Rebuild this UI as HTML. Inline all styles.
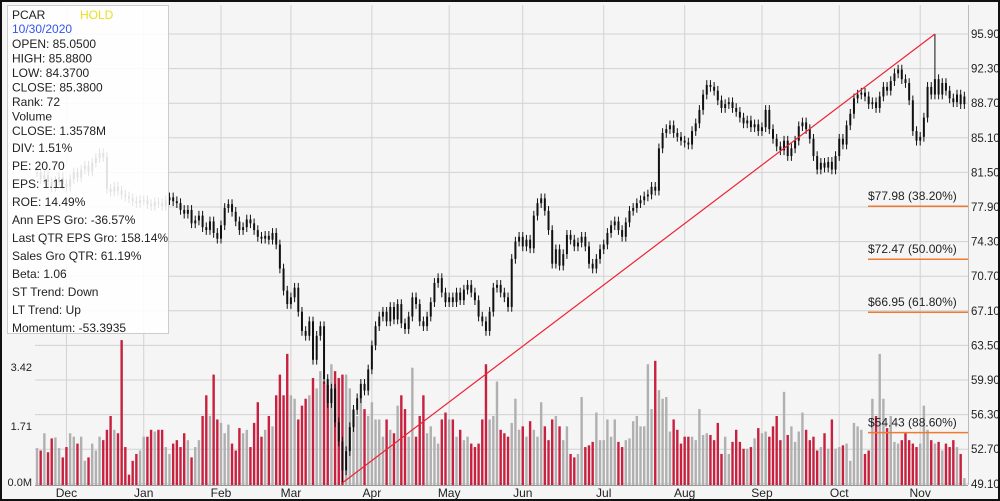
<!DOCTYPE html>
<html><head><meta charset="utf-8"><style>
html,body{margin:0;padding:0;background:#fff;}
svg{display:block;font-family:"Liberation Sans",sans-serif;}
</style></head><body>
<svg id="chart" width="1000" height="501" viewBox="0 0 1000 501">
<rect x="0" y="0" width="1000" height="501" fill="#f5f5f5"/>
<g id="grid"></g><g id="vol"></g><g id="price"></g><g id="fib"></g><g id="axes"></g><g id="info"></g>
<rect x="1" y="1" width="998" height="499" fill="none" stroke="#111" stroke-width="2"/>
</svg>
<script>
const monthLabels=["Dec","Jan","Feb","Mar","Apr","May","Jun","Jul","Aug","Sep","Oct","Nov"];
const monthStartIdx=[8,29,50,69,91,112,132,154,176,197,218,240];
const priceTicks=[95.9,92.3,88.7,85.1,81.5,77.9,74.3,70.7,67.1,63.5,59.9,56.3,52.7,49.1];
const volTicks=[0,1.71,3.42];
const volTickLabels=["0.0M","1.71","3.42"];
const closes=[81.5,80.8,81.2,80.5,80.0,80.6,81.0,80.3,
80.0,80.8,81.5,81.0,81.8,82.2,81.6,82.5,83.0,83.5,83.1,79.8,79.5,80.0,79.6,79.2,79.0,78.8,78.5,78.3,78.6,
78.6,78.2,78.0,78.4,78.3,78.0,78.6,78.9,78.5,78.3,77.6,77.2,77.6,76.2,76.5,77.0,75.8,75.5,76.4,75.2,74.6,
76.0,77.8,78.2,77.4,76.4,75.5,75.8,76.6,76.2,75.5,74.8,74.6,74.9,74.5,75.2,74.0,71.5,69.2,67.8,
68.5,69.5,67.0,65.0,64.5,66.0,62.0,64.5,65.5,60.0,57.5,59.0,55.5,53.5,50.5,52.5,55.0,56.8,58.0,59.5,58.8,61.0,
63.5,65.5,66.5,67.0,66.0,67.5,66.2,67.8,65.8,65.2,66.5,68.5,67.8,66.0,65.5,66.5,68.0,70.0,70.5,69.0,68.0,
68.5,68.0,69.0,68.2,69.3,69.8,69.0,68.2,66.5,66.0,65.0,67.0,69.5,69.8,69.0,68.5,67.5,72.5,74.3,74.8,
73.8,74.5,73.6,77.0,78.3,78.8,77.5,75.5,72.0,73.5,71.8,73.0,75.0,74.5,73.8,74.2,74.8,73.8,72.0,71.5,72.5,73.5,
74.0,75.2,76.0,76.4,75.5,74.8,76.3,77.5,77.8,78.3,78.6,79.0,79.2,80.0,79.6,84.0,85.6,86.0,86.4,85.6,85.2,84.8,
84.6,84.4,85.8,86.6,88.0,89.6,90.6,90.4,90.0,89.0,88.2,88.6,88.8,88.2,87.8,87.2,86.6,86.9,86.2,86.5,85.8,
86.2,88.0,86.0,85.0,84.2,83.8,84.8,83.2,84.0,84.8,86.3,86.7,86.0,85.0,83.2,81.8,82.5,82.0,82.6,81.8,83.2,
85.0,84.4,86.4,87.6,89.2,89.6,89.8,89.4,88.6,88.8,88.2,89.4,90.4,90.0,91.0,91.8,92.2,91.2,90.8,89.0,85.8,84.8,
85.2,87.2,90.4,89.6,91.2,89.6,90.8,90.0,89.2,88.8,89.6,88.6,89.4];
const volumes=[1.07,1.0,1.5,0.95,1.35,1.38,1.07,0.8,
1.1,1.5,1.4,1.2,1.4,0.7,0.8,1.2,1.0,1.4,1.3,1.6,2.0,1.6,1.5,4.2,1.1,0.3,0.7,0.9,1.0,
1.4,1.4,1.6,1.55,1.6,1.6,1.1,0.9,1.2,1.3,1.1,1.5,1.3,0.8,1.1,1.3,2.0,2.6,2.0,3.2,1.9,
1.8,1.5,1.75,1.2,1.0,1.65,1.5,1.6,1.1,1.8,2.4,1.4,1.6,2.0,1.7,2.6,3.2,2.6,3.8,
2.6,2.5,1.9,2.3,2.5,2.6,3.1,2.8,3.3,3.0,2.9,3.5,3.3,3.1,3.2,3.2,2.8,2.2,2.0,2.6,2.2,2.0,
2.4,1.9,1.9,1.4,1.9,1.6,1.5,2.3,2.6,2.2,1.4,3.4,1.4,2.0,2.6,1.5,1.7,1.4,1.2,1.9,2.1,
1.9,1.9,1.4,1.6,1.3,1.4,1.2,1.1,1.2,1.9,3.5,1.9,2.0,3.0,1.6,1.5,1.4,1.8,2.5,1.6,
1.7,1.4,1.85,1.6,1.4,2.4,1.7,1.3,1.9,2.0,1.7,1.3,1.7,0.9,0.8,0.9,2.55,1.1,1.15,1.25,2.1,1.3,
1.3,1.9,1.4,1.9,1.25,1.1,1.3,1.35,1.85,2.0,1.7,1.7,3.5,2.2,3.6,2.75,2.5,2.55,1.55,1.9,1.6,1.2,
1.4,1.4,1.4,1.3,2.2,1.45,1.5,1.45,1.3,1.8,0.9,1.4,0.9,1.25,1.6,1.25,1.05,1.05,1.1,1.35,1.65,
1.5,1.55,1.4,1.7,2.0,1.3,2.7,1.45,1.7,1.25,1.55,2.1,1.6,1.3,1.4,1.0,1.1,1.5,1.05,1.9,1.05,
1.1,1.15,1.2,0.7,1.8,1.7,1.6,0.9,1.0,2.5,2.0,3.8,2.5,1.65,2.0,1.25,1.2,1.3,1.5,1.3,1.2,1.1,
1.2,2.3,1.6,1.3,1.2,1.25,1.0,1.2,1.1,1.3,1.1,0.9,0.2];
const peakIdx=244;
const peakHigh=95.9;
const troughLow=49.2;
const fibPrices=[77.98,72.47,66.95,54.43];
const fibLabels=["$77.98 (38.20%)","$72.47 (50.00%)","$66.95 (61.80%)","$54.43 (88.60%)"];
const infoLines=["OPEN: 85.0500","HIGH: 85.8800","LOW: 84.3700","CLOSE: 85.3800","Rank: 72","Volume","CLOSE: 1.3578M"];
const infoLines2=["DIV: 1.51%","PE: 20.70","EPS: 1.11","ROE: 14.49%","Ann EPS Gro: -36.57%","Last QTR EPS Gro: 158.14%","Sales Gro QTR: 61.19%","Beta: 1.06","ST Trend: Down","LT Trend: Up","Momentum: -53.3935"];

const NS="http://www.w3.org/2000/svg";
const X0=37,STEP=3.68,PLEFT=35,PRIGHT=968;
function xS(i){return X0+i*STEP;}
function yP(p){return 34+(95.9-p)*(34.6/3.6);}
function yV(v){return 485-v*34.5;}
function mk(tag,attrs,parent){const e=document.createElementNS(NS,tag);for(const k in attrs)e.setAttribute(k,attrs[k]);parent.appendChild(e);return e;}
const G=id=>document.getElementById(id);

priceTicks.forEach((p,k)=>{
  const l=mk('line',{x1:PLEFT,x2:PRIGHT,y1:yP(p),y2:yP(p),stroke:'#d2d2d2','stroke-width':1},G('grid'));
  
  
  const t=mk('text',{x:971,y:yP(p)+4,'font-size':11.5,fill:'#222'},G('axes'));
  t.textContent=p.toFixed(2);
  
  
});
monthStartIdx.forEach((i,k)=>{
  const x=xS(i);
  const l=mk('line',{x1:x,x2:x,y1:5,y2:485,stroke:'#d2d2d2','stroke-width':1},G('grid'));
  
  
  const t=mk('text',{x:x,y:497,'font-size':12,fill:'#222','text-anchor':'middle'},G('axes'));
  t.textContent=monthLabels[k];
  
  
});
mk('line',{x1:PLEFT,x2:PRIGHT,y1:485.5,y2:485.5,stroke:'#999'},G('grid'));
mk('line',{x1:PRIGHT+0.5,x2:PRIGHT+0.5,y1:5,y2:485,stroke:'#bbb'},G('grid'));
volTicks.forEach((v,k)=>{
  const t=mk('text',{x:32,y:yV(v)+(k==0?1:4),'font-size':11,fill:'#222','text-anchor':'end'},G('axes'));
  t.textContent=volTickLabels[k];
  
  
});

const n=Math.min(closes.length,volumes.length);
for(let i=0;i<n;i++){
  const down=i>0&&closes[i]<closes[i-1];
  const r=mk('rect',{x:xS(i)-1.2,y:yV(volumes[i]),width:2.4,height:485-yV(volumes[i]),fill:down?'#c8203f':'#b0b0b0'},G('vol'));
  
  
}
let iMin=0;
closes.forEach((c,i)=>{if(c<closes[iMin])iMin=i;});
for(let i=0;i<closes.length;i++){
  const c=closes[i],o=i>0?closes[i-1]:c;
  let hi=Math.max(o,c)+0.5,lo=Math.min(o,c)-0.5;
  if(i===peakIdx)hi=peakHigh;
  if(i===iMin)lo=troughLow;
  const x=xS(i);
  const w=mk('line',{x1:x,x2:x,y1:yP(hi),y2:yP(lo),stroke:'#111','stroke-width':1},G('price'));
  
  
  const b=mk('rect',{x:x-1,y:yP(Math.max(o,c)),width:2,height:Math.max(1,yP(Math.min(o,c))-yP(Math.max(o,c))),fill:'#111'},G('price'));
  
  
}
const tl=mk('line',{x1:xS(iMin),y1:yP(troughLow),x2:xS(peakIdx),y2:yP(peakHigh),stroke:'#ee2233','stroke-width':1.2},G('fib'));


fibPrices.forEach((p,k)=>{
  const l=mk('line',{x1:868,x2:PRIGHT,y1:yP(p),y2:yP(p),stroke:'#f07a30','stroke-width':1.5},G('fib'));
  
  
  const t=mk('text',{x:868,y:yP(p)-6,'font-size':12,fill:'#222'},G('fib'));
  t.textContent=fibLabels[k];
  
  
});
const box=mk('rect',{x:7.5,y:5.5,width:161,height:328,fill:'rgba(255,255,255,0.88)',stroke:'#ccc'},G('info'));


function txt(s,x,y,fill,name){const t=mk('text',{x:x,y:y,'font-size':12,fill:fill},G('info'));t.textContent=s;return t;}
txt('PCAR',12,19,'#222','ticker-symbol');
txt('HOLD',80,19,'#e8e020','rating-label');
txt('10/30/2020',12,33,'#3355ee','date-label');
infoLines.forEach((s,k)=>txt(s,12,48+k*14.5,'#222','info-stat'));
infoLines2.forEach((s,k)=>txt(s,12,152+k*18,'#222','info-stat'));
</script>
</body></html>
